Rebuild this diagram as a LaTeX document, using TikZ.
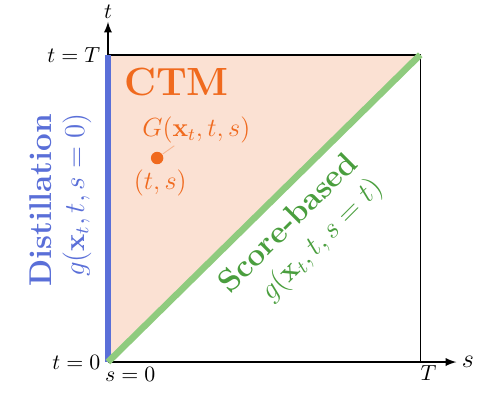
\documentclass[tikz,border=0pt]{standalone}
\usepackage{amsmath}
\usetikzlibrary{positioning}

\definecolor{ctmorange}{HTML}{F06A1E}
\definecolor{ctmfill}{HTML}{FBE1D3}
\definecolor{distblue}{HTML}{5A6FD8}
\definecolor{linegreen}{HTML}{8FCB7E}
\definecolor{scoregreen}{HTML}{4A9E3E}

\begin{document}
\begin{tikzpicture}[
  axis/.style={-latex, line width=0.7pt},
  tick/.style={inner sep=3.33pt},
  region/.style={font=\bfseries},
  formula/.style={font=\large, scale=1.1}]
  \useasboundingbox (-1.736,-0.611) rectangle (6.093,5.82);
  % corners of the (s,t) square
  \coordinate (O) at (0,0);
  \coordinate (tT) at (0,4.94);
  \coordinate (sT) at (5.02,0);
  \coordinate (TT) at (5.02,4.94);
  \coordinate (ttip) at (0,5.47);
  \coordinate (stip) at (5.6,0);
  % CTM region above the diagonal
  \fill[ctmfill] (O) -- (tT) -- (TT) -- cycle;
  \draw[line width=0.7pt] (tT) -- (TT) -- (sT);
  % Now the axes
  \draw[axis] (O) -- (ttip);
  \draw[axis] (O) -- (stip);
  \node[above=-2pt of ttip] (tlab) {$t$};
  \node[right=-1pt of stip] (slab) {\large $s$};
  \node[tick, left=0pt of tT] (tTlab) {$t=T$};
  \node[tick, left=0pt of O] (t0lab) {$t=0$};
  \node[tick, below right=-1pt and -0.17cm of O] (s0lab) {$s=0$};
  \node[tick, below right=-2pt and -0.12cm of sT] (sTlab) {$T$};
  % the two boundary lines
  \draw[distblue, line width=2.5pt] (O) -- (tT);
  \draw[linegreen, line width=3pt] (O) -- (TT);
  % CTM label and a point inside
  \node[region, text=ctmorange, font=\fontsize{18}{20}\selectfont\bfseries] (ctm) at (1.10,4.50) {CTM};
  \node[circle, fill=ctmorange, inner sep=0pt, minimum size=0.2cm] (pt) at (0.79,3.28) {};
  \node[text=ctmorange, inner sep=1pt] (Glab) at (1.42,3.73) {\large $G(\mathbf{x}_t,t,s)$};
  \node[text=ctmorange] (tslab) at (0.84,2.88) {\large $(t,s)$};
  \draw[ctmorange!50, line width=0.4pt] (pt) -- (Glab);
  % Distillation (s=0 edge)
  \node[region, rotate=90, text=distblue, font=\Large\bfseries] (distil) at (-1.09,2.6) {Distillation};
  \node[formula, rotate=90, text=distblue] (gdistil) at (-0.50,2.68) {$g(\mathbf{x}_t,t,s=0)$};
  % Score-based (s=t diagonal)
  \node[region, rotate=45, text=scoregreen, font=\Large\bfseries] (score) at (2.88,2.25) {Score-based};
  \node[formula, rotate=45, text=scoregreen] (gscore) at (3.44,1.96) {$g(\mathbf{x}_t,t,s=t)$};
\end{tikzpicture}
\end{document}
